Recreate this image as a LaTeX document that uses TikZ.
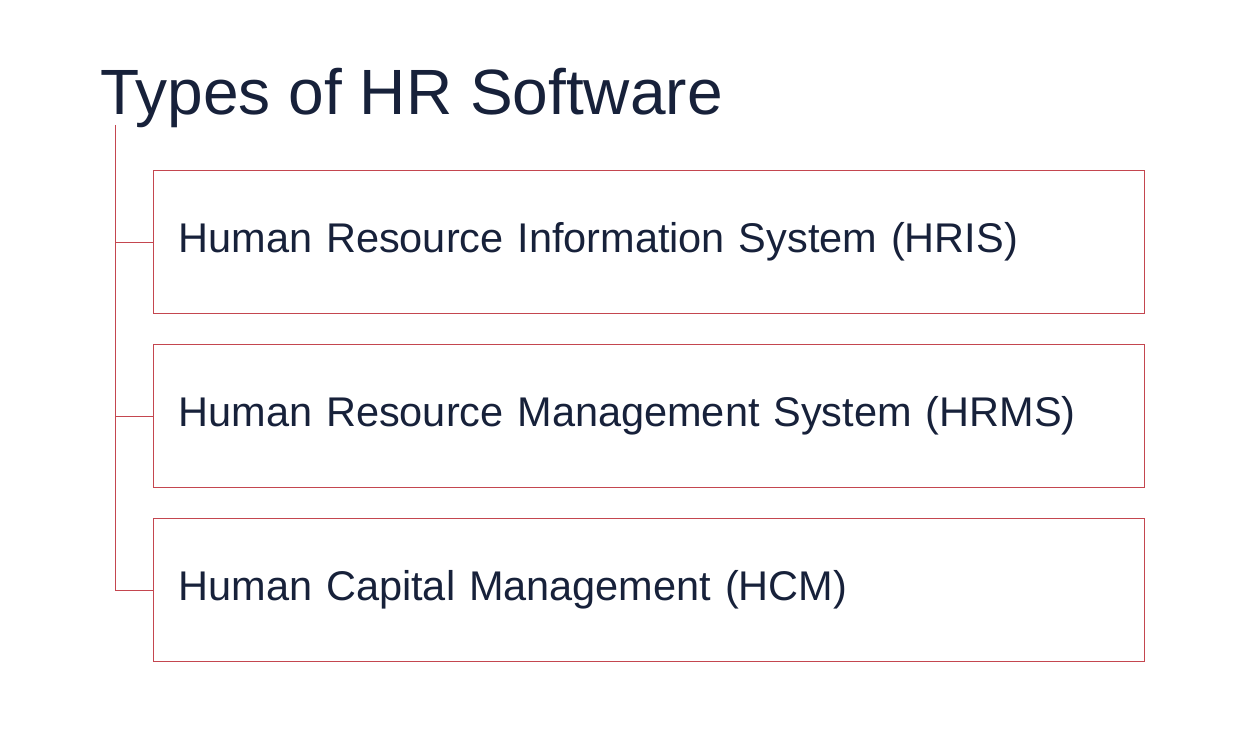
\documentclass[tikz,border=0pt]{standalone}
\usepackage{fontspec}
\setmainfont{Liberation Sans}
\usetikzlibrary{positioning}
\definecolor{hrred}{HTML}{C4464F}
\definecolor{hrnavy}{HTML}{17213A}
\tikzset{
	hrbox/.style={draw=hrred, line width=1pt, minimum width=991pt, minimum height=143pt,
		text width=941pt, inner xsep=25pt, align=left, text=hrnavy,
		font=\fontsize{41.5}{50}\selectfont},
	hrline/.style={draw=hrred, line width=1pt}
}
\begin{document}
\begin{tikzpicture}[x=1pt,y=-1pt]
	\useasboundingbox (0,0) rectangle (1258,733);
	\node[anchor=base west, inner sep=0pt, text=hrnavy, font=\fontsize{64}{72}\selectfont] (title) at (100,115) {Types of HR Software};
	\coordinate (trunk) at (115,125);
	\node[hrbox, anchor=north west] (hris) at (153,170) {Human Resource Information System (HRIS)};
	\node[hrbox, below=30pt of hris] (hrms) {Human Resource Management System (HRMS)};
	\node[hrbox, below=30pt of hrms] (hcm) {Human Capital Management (HCM)};
	\draw[hrline] (trunk) |- (hcm.west);
	\foreach \b in {hris,hrms}
		\draw[hrline] (trunk |- \b.west) -- (\b.west);
\end{tikzpicture}
\end{document}
